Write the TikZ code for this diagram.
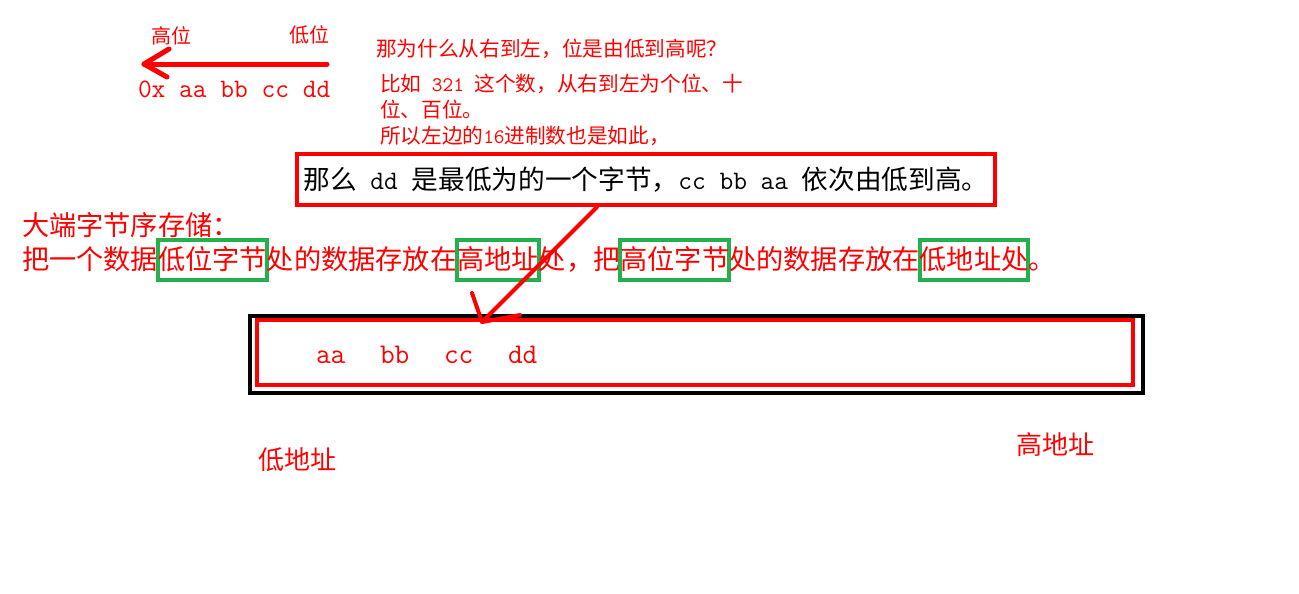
\documentclass[tikz,border=0pt]{standalone}
\usepackage{fontspec}
\setmainfont{Noto Sans CJK SC}
\usetikzlibrary{positioning}

\definecolor{paintred}{RGB}{255,0,0}
\definecolor{paintgreen}{RGB}{34,177,76}

\begin{document}
\begin{tikzpicture}[x=0.75pt,y=0.75pt,yscale=-1,xscale=1,
  redtext/.style={text=paintred,inner sep=0pt,outer sep=0pt},
  seg/.style={redtext,anchor=base west,font=\fontsize{20.4}{24}\selectfont},
  markbox/.style={seg,draw=paintgreen,line width=3pt,inner xsep=0pt,inner ysep=5pt,text height=17pt,text depth=3pt},
  note/.style={redtext,anchor=base west,font=\fontsize{15.5}{19}\selectfont},
  redline/.style={draw=paintred,line width=3pt,line cap=round,line join=round}]
\useasboundingbox (0,0) rectangle (1299,593);

% Text Node
\draw (171,36) node (gaowei) [redtext,font=\fontsize{15}{18}\selectfont] {高位};
% Text Node
\draw (309,35) node (diwei) [redtext,font=\fontsize{15}{18}\selectfont] {低位};
% Text Node
\draw (138,97) node (hexnum) [redtext,anchor=base west,font=\fontsize{20}{24}\selectfont\ttfamily] {0x aa bb cc dd};

%Straight Lines
\coordinate (lowside) at (327,64);
\coordinate (highside) at (144,64);
\coordinate (barbup) at (169,49);
\coordinate (barbdown) at (167,77);
\draw [redline,line width=3.75pt] (lowside) -- (highside) ;
\draw [redline,line width=3.75pt] (barbup) -- (highside) -- (barbdown) ;

% Text Node
\draw (376,56) node (why) [note] {那为什么从右到左，位是由低到高呢？};
% Text Node
\draw (380,91) node (expl1) [note] {比如\texttt{ 321 }这个数，从右到左为个位、十};
% Text Node
\draw (380,117) node (expl2) [note] {位、百位。};
% Text Node
\draw (380,143) node (expl3) [note] {所以左边的\texttt{16}进制数也是如此，};

%Shape: Rectangle
\draw (646,179.5) node (lowbyte) [draw=paintred,line width=3pt,inner sep=0pt,minimum width=523.5pt,minimum height=38.25pt,font=\fontsize{20}{24}\selectfont] {那么\texttt{ dd }是最低为的一个字节，\texttt{cc bb aa }依次由低到高。};

% Text Node
\draw (22,235) node (title) [seg] {大端字节序存储：};
% Text Node
\node[seg] (s1) at (22,269) {把一个数据};
\node[markbox] (m1) at (s1.base east) {低位字节};
\node[seg] (s2) at (m1.base east) {处的数据存放在};
\node[markbox] (m2) at (s2.base east) {高地址};
\node[seg] (s3) at (m2.base east) {处，把};
\node[markbox] (m3) at (s3.base east) {高位字节};
\node[seg] (s4) at (m3.base east) {处的数据存放在};
\node[markbox] (m4) at (s4.base east) {低地址处};
\node[seg] (s5) at (m4.base east) {。};

%Shape: Rectangle
\draw (696.5,354.5) node (memframe) [draw=black,line width=3pt,inner sep=0pt,minimum width=669.75pt,minimum height=57.75pt] {};
%Shape: Rectangle
\draw (695,352.5) node (memcells) [draw=paintred,line width=3pt,inner sep=0pt,minimum width=657pt,minimum height=48.75pt] {};

% Text Node
\draw (316,363) node (byteaa) [redtext,anchor=base west,font=\fontsize{21.4}{24}\selectfont\ttfamily] {aa};
\draw (380,363) node (bytebb) [redtext,anchor=base west,font=\fontsize{21.4}{24}\selectfont\ttfamily] {bb};
\draw (444,363) node (bytecc) [redtext,anchor=base west,font=\fontsize{21.4}{24}\selectfont\ttfamily] {cc};
\draw (508,363) node (bytedd) [redtext,anchor=base west,font=\fontsize{21.4}{24}\selectfont\ttfamily] {dd};

%Straight Lines
\coordinate (tail) at (597,207);
\coordinate (tip) at (482,322);
\coordinate (barbleft) at (472,293);
\coordinate (barbright) at (520,315);
\draw [redline] (tail) -- (tip) ;
\draw [redline] (barbleft) -- (tip) -- (barbright) ;

% Text Node
\draw (297,460) node (lowaddr) [redtext,font=\fontsize{19.5}{22}\selectfont] {低地址};
% Text Node
\draw (1055,445) node (highaddr) [redtext,font=\fontsize{19.5}{22}\selectfont] {高地址};

\end{tikzpicture}
\end{document}
